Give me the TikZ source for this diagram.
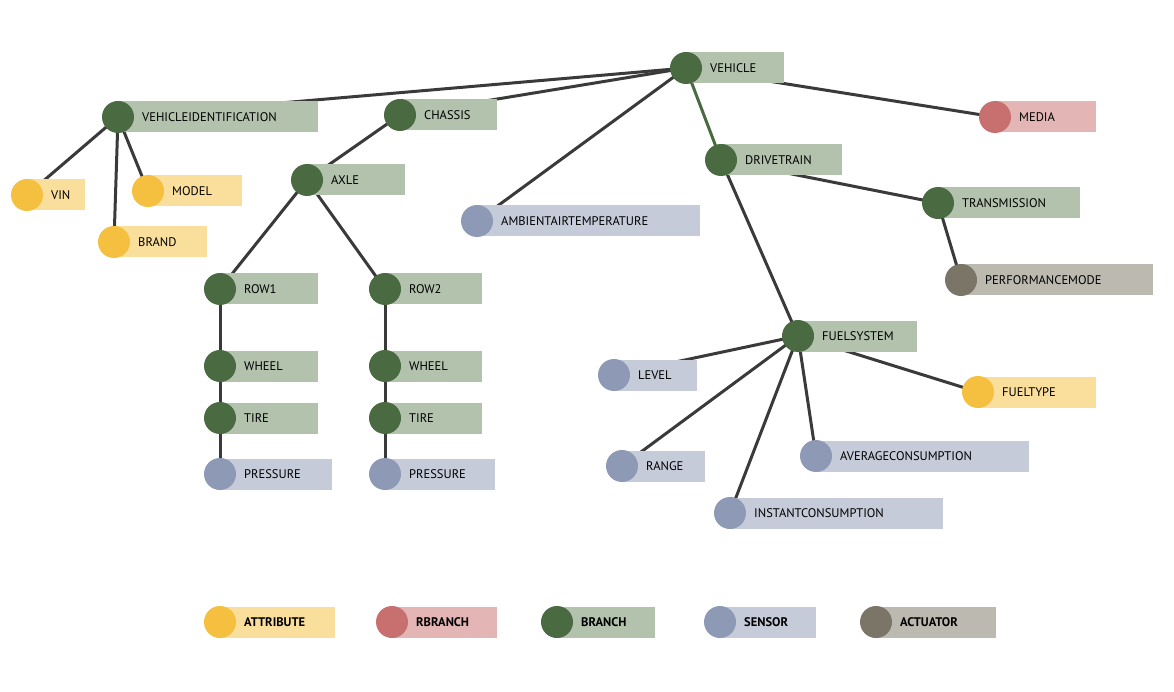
\documentclass[tikz,border=0pt]{standalone}
\usepackage{fontspec}
\setmainfont{PT Sans}
\usetikzlibrary{backgrounds}
\definecolor{brc}{HTML}{4A6A42}\definecolor{brl}{HTML}{B2C2AD}
\definecolor{atc}{HTML}{F5C040}\definecolor{atl}{HTML}{FADF9C}
\definecolor{rbc}{HTML}{C87070}\definecolor{rbl}{HTML}{E3B5B5}
\definecolor{sec}{HTML}{8E9AB5}\definecolor{sel}{HTML}{C5CBD9}
\definecolor{acc}{HTML}{7B7568}\definecolor{acl}{HTML}{BCB9B0}
\definecolor{edg}{HTML}{3A3A3A}
\tikzset{dot/.style={circle,inner sep=0pt,minimum size=32pt},
 lbl/.style={anchor=west,inner sep=0pt,font=\fontsize{12.5}{14}\selectfont},
 edge/.style={draw=edg,line width=3pt},
 gedge/.style={draw=brc,line width=3pt}}
\newcommand\vn[7][]{%
 \fill[#7l] ({#3},{#4-15.5}) rectangle ({#5},{#4+15.5});
 \node[dot,fill=#7c] (#2) at (#3,#4) {};
 \node[lbl,#1] (#2-t) at ({#3+24},#4) {#6};}
\begin{document}
\begin{tikzpicture}[x=1pt,y=-1pt]
\useasboundingbox (0,0) rectangle (1174,692);
\vn{veh}{686}{68}{784}{VEHICLE}{br}
\vn{vid}{118}{117}{318}{VEHICLEIDENTIFICATION}{br}
\vn{cha}{400}{115}{497}{CHASSIS}{br}
\vn{med}{995}{117}{1096}{MEDIA}{rb}
\vn{dri}{721}{160}{842}{DRIVETRAIN}{br}
\vn{axl}{307}{180}{405}{AXLE}{br}
\vn{vin}{27}{195}{85}{VIN}{at}
\vn{mod}{148}{191}{242}{MODEL}{at}
\vn{bra}{114}{242}{207}{BRAND}{at}
\vn{amb}{477}{221}{700}{AMBIENTAIRTEMPERATURE}{se}
\vn{tra}{938}{203}{1080}{TRANSMISSION}{br}
\vn{per}{961}{280}{1153}{PERFORMANCEMODE}{ac}
\vn{r1}{220}{289}{318}{ROW1}{br}
\vn{r2}{385}{289}{482}{ROW2}{br}
\vn{fue}{798}{336}{917}{FUELSYSTEM}{br}
\vn{w1}{220}{366}{318}{WHEEL}{br}
\vn{w2}{385}{366}{482}{WHEEL}{br}
\vn{t1}{220}{418}{318}{TIRE}{br}
\vn{t2}{385}{418}{482}{TIRE}{br}
\vn{p1}{220}{474}{332}{PRESSURE}{se}
\vn{p2}{385}{474}{495}{PRESSURE}{se}
\vn{lev}{614}{375}{697}{LEVEL}{se}
\vn{fty}{978}{392}{1096}{FUELTYPE}{at}
\vn{ran}{622}{466}{705}{RANGE}{se}
\vn{avg}{816}{456}{1029}{AVERAGECONSUMPTION}{se}
\vn{ins}{730}{513}{943}{INSTANTCONSUMPTION}{se}
% legend
\vn[font=\fontsize{12.5}{14}\selectfont\bfseries]{la}{220}{622}{335}{ATTRIBUTE}{at}
\vn[font=\fontsize{12.5}{14}\selectfont\bfseries]{lr}{392}{622}{497}{RBRANCH}{rb}
\vn[font=\fontsize{12.5}{14}\selectfont\bfseries]{lb}{557}{622}{655}{BRANCH}{br}
\vn[font=\fontsize{12.5}{14}\selectfont\bfseries]{ls}{720}{622}{816}{SENSOR}{se}
\vn[font=\fontsize{12.5}{14}\selectfont\bfseries]{lc}{876}{622}{996}{ACTUATOR}{ac}
\begin{scope}[on background layer]
\foreach \a/\b in {veh/vid,veh/cha,veh/amb,veh/med,vid/vin,vid/bra,vid/mod,cha/axl,axl/r1,axl/r2,r1/w1,w1/t1,t1/p1,r2/w2,w2/t2,t2/p2,dri/tra,dri/fue,tra/per,fue/lev,fue/fty,fue/ran,fue/avg,fue/ins}
 \draw[edge] (\a.center) -- (\b.center);
\draw[gedge] (veh.center) -- (dri.center);
\end{scope}
\end{tikzpicture}
\end{document}
